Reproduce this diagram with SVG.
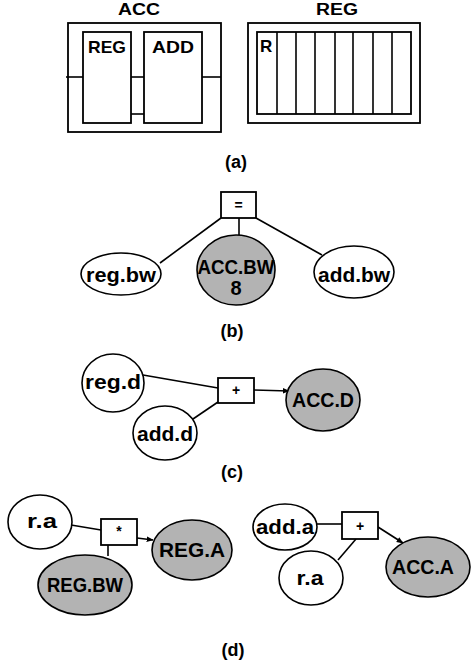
<svg xmlns="http://www.w3.org/2000/svg" width="474" height="661" viewBox="0 0 474 661">
<style>
  .ln{stroke:#000;stroke-width:1.6;fill:none}
  .box{stroke:#000;stroke-width:1.8;fill:#fff}
  .ell{stroke:#000;stroke-width:1.6;fill:#fff}
  .gray{stroke:#000;stroke-width:1.6;fill:#b3b3b3}
  text{font-family:"Liberation Sans",Arial,sans-serif;font-weight:bold;fill:#000}
  .t{font-size:20px;text-anchor:middle}
  .ttl{font-size:16px;text-anchor:middle}
  .cap{font-size:18px;text-anchor:middle}
  .op{font-size:14px;text-anchor:middle}
</style>
<defs>
  <marker id="ah" viewBox="0 0 10 10" refX="9" refY="5" markerWidth="7" markerHeight="7" orient="auto" markerUnits="userSpaceOnUse">
    <path d="M0,1 L10,5 L0,9 z" fill="#000"/>
  </marker>
</defs>
<rect width="474" height="661" fill="#fff"/>

<!-- (a) -->
<g id="acc">
  <text class="ttl" x="139" y="15" textLength="42" lengthAdjust="spacingAndGlyphs">ACC</text>
  <rect class="box" x="68" y="23" width="153" height="109"/>
  <line class="ln" x1="66" y1="77" x2="83" y2="77"/>
  <line class="ln" x1="131" y1="77" x2="144" y2="77"/>
  <line class="ln" x1="131" y1="114" x2="144" y2="114"/>
  <line class="ln" x1="202" y1="77" x2="221" y2="77"/>
  <rect class="box" x="83" y="32" width="48" height="91"/>
  <rect class="box" x="144" y="32" width="58" height="91"/>
  <text x="88" y="53" font-size="17" textLength="38" lengthAdjust="spacingAndGlyphs">REG</text>
  <text x="152" y="53" font-size="17" textLength="42" lengthAdjust="spacingAndGlyphs">ADD</text>
</g>
<g id="reg">
  <text class="ttl" x="337" y="15" textLength="42" lengthAdjust="spacingAndGlyphs">REG</text>
  <rect class="box" x="248" y="23" width="172" height="100"/>
  <rect class="box" x="257" y="32" width="154" height="82"/>
  <g class="ln">
    <line x1="277" y1="32" x2="277" y2="114"/>
    <line x1="296" y1="32" x2="296" y2="114"/>
    <line x1="315" y1="32" x2="315" y2="114"/>
    <line x1="335" y1="32" x2="335" y2="114"/>
    <line x1="353" y1="32" x2="353" y2="114"/>
    <line x1="373" y1="32" x2="373" y2="114"/>
    <line x1="392" y1="32" x2="392" y2="114"/>
  </g>
  <text x="260" y="52" font-size="17">R</text>
</g>
<text class="cap" x="236" y="168">(a)</text>

<!-- connectors -->
<g id="connectors">
  <line class="ln" x1="221" y1="218" x2="160" y2="263"/>
  <line class="ln" x1="239" y1="218" x2="239" y2="235"/>
  <line class="ln" x1="256" y1="218" x2="322" y2="255"/>

  <line class="ln" x1="143" y1="375" x2="218" y2="388"/>
  <line class="ln" x1="193" y1="419" x2="218" y2="402"/>
  <line class="ln" x1="254" y1="390" x2="289" y2="391" marker-end="url(#ah)"/>

  <line class="ln" x1="71" y1="525" x2="101" y2="530"/>
  <line class="ln" x1="108" y1="545" x2="108" y2="556"/>
  <line class="ln" x1="137" y1="538" x2="153" y2="540" marker-end="url(#ah)"/>

  <line class="ln" x1="317" y1="524" x2="342" y2="524"/>
  <line class="ln" x1="356" y1="539" x2="338" y2="560"/>
  <line class="ln" x1="378" y1="527" x2="403" y2="543" marker-end="url(#ah)"/>
</g>

<!-- (b) -->
<g id="eq">
  <rect class="box" x="221" y="192" width="35" height="26"/>
  <text class="op" x="238.5" y="210">=</text>
</g>
<g id="regbw">
  <ellipse class="ell" cx="121" cy="274" rx="40" ry="21"/>
  <text class="t" x="121" y="282" textLength="70" lengthAdjust="spacingAndGlyphs">reg.bw</text>
</g>
<g id="accbw">
  <ellipse class="gray" cx="236" cy="270" rx="39" ry="35"/>
  <text class="t" x="236" y="274" textLength="77" lengthAdjust="spacingAndGlyphs">ACC.BW</text>
  <text class="t" x="236" y="295">8</text>
</g>
<g id="addbw">
  <ellipse class="ell" cx="354" cy="272" rx="40" ry="26"/>
  <text class="t" x="354" y="282" textLength="72" lengthAdjust="spacingAndGlyphs">add.bw</text>
</g>
<text class="cap" x="232" y="337">(b)</text>

<!-- (c) -->
<g id="plus1">
  <rect class="box" x="218" y="378" width="36" height="25"/>
  <text class="op" x="236" y="395">+</text>
</g>
<g id="regd">
  <ellipse class="ell" cx="113" cy="383" rx="31" ry="29"/>
  <text class="t" x="113" y="389" textLength="56" lengthAdjust="spacingAndGlyphs">reg.d</text>
</g>
<g id="addd">
  <ellipse class="ell" cx="165" cy="433" rx="32" ry="27"/>
  <text class="t" x="165" y="441" textLength="56" lengthAdjust="spacingAndGlyphs">add.d</text>
</g>
<g id="accd">
  <ellipse class="gray" cx="323" cy="400" rx="37" ry="31"/>
  <text class="t" x="323" y="407" textLength="62" lengthAdjust="spacingAndGlyphs">ACC.D</text>
</g>
<text class="cap" x="232" y="478">(c)</text>

<!-- (d) left -->
<g id="mul">
  <rect class="box" x="101" y="519" width="36" height="26"/>
  <text class="op" x="119" y="536">*</text>
</g>
<g id="ra1">
  <ellipse class="ell" cx="40" cy="522" rx="32" ry="27"/>
  <text class="t" x="42" y="528" textLength="30" lengthAdjust="spacingAndGlyphs">r.a</text>
</g>
<g id="regbw2">
  <ellipse class="gray" cx="85" cy="585" rx="47" ry="30"/>
  <text class="t" x="85" y="592" textLength="76" lengthAdjust="spacingAndGlyphs">REG.BW</text>
</g>
<g id="rega">
  <ellipse class="gray" cx="192" cy="550" rx="40" ry="30"/>
  <text class="t" x="192" y="557" textLength="66" lengthAdjust="spacingAndGlyphs">REG.A</text>
</g>

<!-- (d) right -->
<g id="plus2">
  <rect class="box" x="342" y="512" width="36" height="27"/>
  <text class="op" x="360" y="531">+</text>
</g>
<g id="adda">
  <ellipse class="ell" cx="285" cy="527" rx="32" ry="23"/>
  <text class="t" x="285" y="534" textLength="58" lengthAdjust="spacingAndGlyphs">add.a</text>
</g>
<g id="ra2">
  <ellipse class="ell" cx="311" cy="578" rx="32" ry="27"/>
  <text class="t" x="310" y="585" textLength="27" lengthAdjust="spacingAndGlyphs">r.a</text>
</g>
<g id="acca">
  <ellipse class="gray" cx="428" cy="567" rx="42" ry="30"/>
  <text class="t" x="423" y="574" textLength="62" lengthAdjust="spacingAndGlyphs">ACC.A</text>
</g>
<text class="cap" x="233" y="656">(d)</text>
</svg>
